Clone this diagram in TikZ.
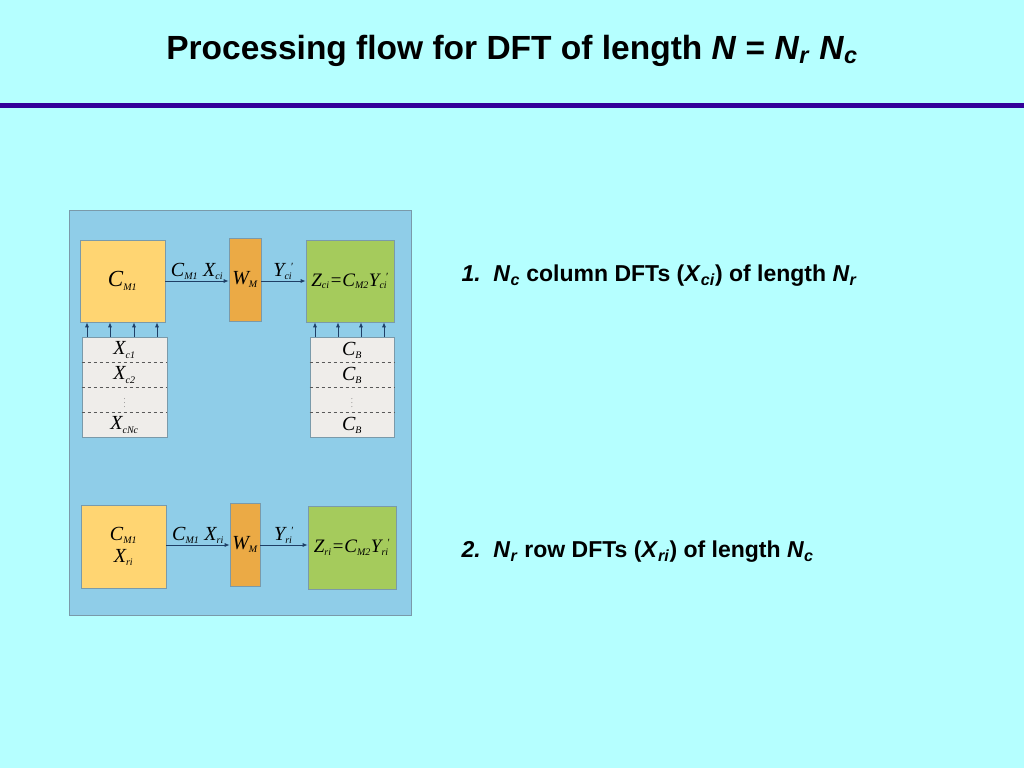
\documentclass[tikz,border=0pt]{standalone}
\usepackage{fontspec}
\setmainfont{Liberation Serif}
\newfontfamily\arialf{Liberation Sans}
\usetikzlibrary{arrows.meta}
\definecolor{bgc}{HTML}{B5FFFF}
\definecolor{barc}{HTML}{330099}
\definecolor{panelc}{HTML}{8FCDE8}
\definecolor{yelc}{HTML}{FFD572}
\definecolor{orc}{HTML}{EBAA45}
\definecolor{grc}{HTML}{A5CB5C}
\definecolor{stc}{HTML}{EFEDEA}
\definecolor{edgec}{HTML}{7A9AAA}
\definecolor{arrc}{HTML}{1F3F66}
\newcommand\sbs[1]{\textsubscript{\fontsize{10}{10}\selectfont #1}}
\newcommand\prm{\raisebox{6pt}{\fontsize{11}{11}\selectfont\textup{′}}}
\tikzset{
 blk/.style={draw=edgec,line width=0.6pt,inner sep=0pt},
 flow/.style={draw=arrc,line width=0.9pt,-{Latex[length=5pt,width=4pt]}},
 mt/.style={font=\fontsize{20}{21}\selectfont\itshape,inner sep=1pt},
 dots/.style={font=\fontsize{7}{7}\selectfont,inner sep=0pt,text=gray!60!black},
 it/.style={font=\arialf\bfseries\fontsize{23}{26}\selectfont,anchor=west},
}
\begin{document}
\begin{tikzpicture}[x=1pt,y=-1pt]
\fill[bgc] (0,0) rectangle (1024,768);
\useasboundingbox (0,0) rectangle (1024,768);
\node (title) at (512,51) {\arialf\bfseries\fontsize{33.5}{37}\selectfont Processing flow for DFT of length \textit{N} = \textit{N}\textsubscript{\textit{r}} \textit{N}\textsubscript{\textit{c}}};
\fill[barc] (0,103) rectangle (1024,108);
\node[blk,fill=panelc,minimum width=342pt,minimum height=405pt] (panel) at (240,412.5) {};
% top row
\node[blk,fill=yelc,minimum width=85pt,minimum height=82pt] (c1) at (122.5,281) {};
\node[mt,font=\fontsize{23}{24}\selectfont\itshape] at (c1) {C\sbs{M1}};
\node[blk,fill=orc,minimum width=32pt,minimum height=83pt] (w1) at (245,279.5) {};
\node[mt] at (w1) {W\sbs{M}};
\node[blk,fill=grc,minimum width=88pt,minimum height=82pt] (z1) at (350,281) {};
\node[mt,font=\fontsize{19}{21}\selectfont\itshape] at (z1) {Z\sbs{ci}=C\sbs{M2}Y\sbs{ci}\kern-1pt\prm};
\draw[flow] (c1.east |- 0,281) -- (w1.west |- 0,281) node[midway,above,mt] {C\sbs{M1} X\sbs{ci}};
\draw[flow] (w1.east |- 0,281) -- (z1.west |- 0,281) node[midway,above,mt] {Y\sbs{ci}\kern-1pt\prm};
% stacks
\node[blk,fill=stc,minimum width=85pt,minimum height=100pt] (s1) at (124.5,387) {};
\node[blk,fill=stc,minimum width=84pt,minimum height=100pt] (s2) at (352,387) {};
\foreach \y in {362.5,387.5,412.5}{
 \draw[dashed,gray!70!black,line width=0.5pt] (s1.west |- 0,\y) -- (s1.east |- 0,\y);
 \draw[dashed,gray!70!black,line width=0.5pt] (s2.west |- 0,\y) -- (s2.east |- 0,\y);}
\node[mt] at (124.5,350) {X\sbs{c1}};
\node[mt] at (124.5,375) {X\sbs{c2}};
\node[dots] at (124.5,400) {$\vdots$};
\node[mt] at (124.5,425) {X\sbs{cNc}};
\foreach \y in {350,375,425}
 \node[mt] at (352,\y) {C\sbs{B}};
\node[dots] at (352,400) {$\vdots$};
\foreach \x in {87,110,134,157}
 \draw[flow,line width=0.8pt] (s1.north -| \x,0) -- (c1.south -| \x,0);
\foreach \x in {315,338,361,384}
 \draw[flow,line width=0.8pt] (s2.north -| \x,0) -- (z1.south -| \x,0);
% bottom row
\node[blk,fill=yelc,minimum width=85pt,minimum height=83pt] (c2) at (123.5,546.5) {};
\node[mt,align=center,font=\fontsize{20}{22}\selectfont\itshape] at (c2) {C\sbs{M1}\\X\sbs{ri}};
\node[blk,fill=orc,minimum width=30pt,minimum height=83pt] (w2) at (245,544.5) {};
\node[mt] at (w2) {W\sbs{M}};
\node[blk,fill=grc,minimum width=88pt,minimum height=83pt] (z2) at (352,547.5) {};
\node[mt,font=\fontsize{19}{21}\selectfont\itshape] at (z2) {Z\sbs{ri}=C\sbs{M2}Y\sbs{ri}\kern-1pt\prm};
\draw[flow] (c2.east |- 0,545) -- (w2.west |- 0,545) node[midway,above,mt] {C\sbs{M1} X\sbs{ri}};
\draw[flow] (w2.east |- 0,545) -- (z2.west |- 0,545) node[midway,above,mt] {Y\sbs{ri}\kern-1pt\prm};
% items
\node[it] (i1) at (458,276) {\textit{1.\ \ N}\textsubscript{\textit{c}} column DFTs (\textit{X}\textsubscript{\textit{ci}}) of length \textit{N}\textsubscript{\textit{r}}};
\node[it] (i2) at (458,552) {\textit{2.\ \ N}\textsubscript{\textit{r}} row DFTs (\textit{X}\textsubscript{\textit{ri}}) of length \textit{N}\textsubscript{\textit{c}}};
\end{tikzpicture}
\end{document}
